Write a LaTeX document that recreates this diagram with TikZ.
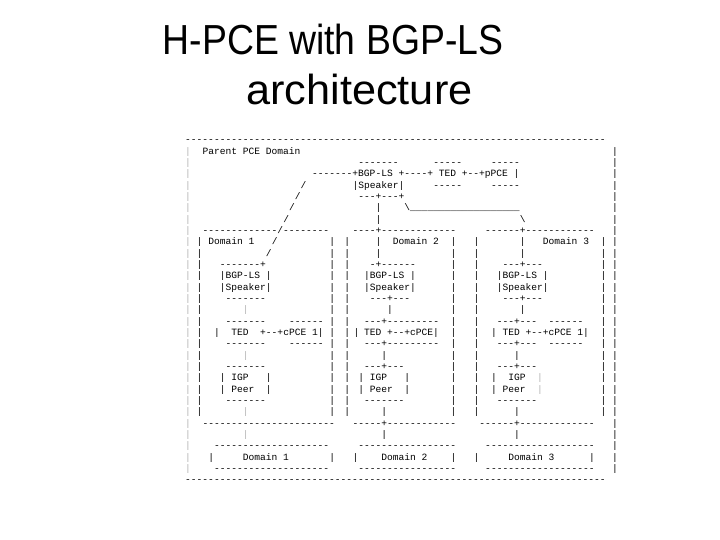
\documentclass[tikz,border=0pt]{standalone}
\usepackage{fontspec}
\setmainfont{Liberation Sans}
\newfontfamily\ascfont{Liberation Mono}
\tikzset{asc/.style={anchor=base west,inner sep=0pt,font=\ascfont\fontsize{9.6}{10}\selectfont,text=black},
 faint/.style={asc,text=black!30},
 ttl/.style={anchor=base,inner sep=0pt,font=\fontsize{42}{44}\selectfont}}
\newcommand\A[4][asc]{\node[#1] at ({(185+5.77*#2)*1pt},{-(143+11.33*#3)*1pt}) {#4};}
\begin{document}
\begin{tikzpicture}
\useasboundingbox (0,0) rectangle (720pt,-540pt);
\node[ttl,xscale=0.89] (t1) at (333pt,-55pt) {H-PCE with BGP-LS};
\node[ttl,xscale=1.03] (t2) at (359.5pt,-105pt) {architecture};
% outer box
\A{0}{0}{-------------------------------------------------------------------------}
\A{0}{30}{-------------------------------------------------------------------------}
\foreach \r in {1,...,29}{\A[faint]{0}{\r}{|}\A{74}{\r}{|}}
\A{3}{1}{Parent PCE Domain}
\A{30}{2}{-------}\A{43}{2}{-----}\A{53}{2}{-----}
\A{22}{3}{-------+BGP-LS +----+ TED +--+pPCE |}
\A{20}{4}{/}\A{29}{4}{|Speaker|}\A{43}{4}{-----}\A{53}{4}{-----}
\A{19}{5}{/}\A{30}{5}{---+---+}
\A{18}{6}{/}\A{33}{6}{|}\A{38}{6}{\textbackslash\_\_\_\_\_\_\_\_\_\_\_\_\_\_\_\_\_\_\_}
\A{17}{7}{/}\A{33}{7}{|}\A{58}{7}{\textbackslash}
\A{3}{8}{-------------/--------}\A{29}{8}{----+-------------}\A{52}{8}{------+------------}
% domain boxes side bars
\foreach \r in {9,...,24}{\A{2}{\r}{|}\A{25}{\r}{|}\A{27.6}{\r}{|}\A{46}{\r}{|}\A{50}{\r}{|}\A{72}{\r}{|}}
\A{4}{9}{Domain 1}\A{15}{9}{/}\A{33}{9}{|}\A{36}{9}{Domain 2}\A{58}{9}{|}\A{62}{9}{Domain 3}
\A{14}{10}{/}\A{33}{10}{|}\A{58}{10}{|}
\A{6}{11}{-------+}\A{32}{11}{-+------}\A{55}{11}{---+---}
\A{6}{12}{|BGP-LS |}\A{31}{12}{|BGP-LS |}\A{54}{12}{|BGP-LS |}
\A{6}{13}{|Speaker|}\A{31}{13}{|Speaker|}\A{54}{13}{|Speaker|}
\A{7}{14}{-------}\A{32}{14}{---+---}\A{55}{14}{---+---}
\A[faint]{10}{15}{|}\A{35}{15}{|}\A{58}{15}{|}
\A{7}{16}{-------}\A{18}{16}{------}\A{31}{16}{---+---}\A{38}{16}{------}\A{54}{16}{---+---}\A{63}{16}{------}
\A{5}{17}{|}\A{8}{17}{TED}\A{13}{17}{+--+cPCE 1|}
\A{29.2}{17}{|}\A{31}{17}{TED}\A{35}{17}{+--+cPCE|}
\A{53}{17}{|}\A{55}{17}{TED}\A{59}{17}{+--+cPCE 1|}
\A{7}{18}{-------}\A{18}{18}{------}\A{31}{18}{---+---}\A{38}{18}{------}\A{54}{18}{---+---}\A{63}{18}{------}
\A[faint]{10}{19}{|}\A{34}{19}{|}\A{57}{19}{|}
\A{7}{20}{-------}\A{31}{20}{---+---}\A{54}{20}{---+---}
\A{6}{21}{|}\A{8}{21}{IGP}\A{14}{21}{|}\A{30}{21}{|}\A{32}{21}{IGP}\A{38}{21}{|}\A{53}{21}{|}\A{56}{21}{IGP}\A[faint]{61}{21}{|}
\A{6}{22}{|}\A{8}{22}{Peer}\A{14}{22}{|}\A{30}{22}{|}\A{32}{22}{Peer}\A{38}{22}{|}\A{53}{22}{|}\A{55}{22}{Peer}\A[faint]{61}{22}{|}
\A{7}{23}{-------}\A{31}{23}{-------}\A{54}{23}{-------}
\A[faint]{10}{24}{|}\A{34}{24}{|}\A{57}{24}{|}
\A{3}{25}{-----------------------}\A{29}{25}{-----+------------}\A{51}{25}{------+-------------}
\A[faint]{10}{26}{|}\A{34}{26}{|}\A{57}{26}{|}
\A{5}{27}{--------------------}\A{30}{27}{-----------------}\A{52}{27}{-------------------}
\A{4}{28}{|}\A{10}{28}{Domain 1}\A{25}{28}{|}\A{29}{28}{|}\A{34}{28}{Domain 2}\A{46}{28}{|}\A{50}{28}{|}\A{56}{28}{Domain 3}\A{70}{28}{|}
\A{5}{29}{--------------------}\A{30}{29}{-----------------}\A{52}{29}{-------------------}
\end{tikzpicture}
\end{document}
